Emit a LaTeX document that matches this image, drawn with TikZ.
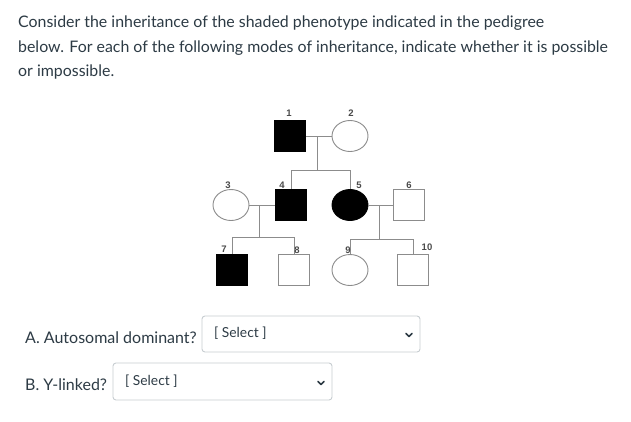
\documentclass[tikz,border=0pt]{standalone}
\usepackage{fontspec}
\setmainfont{Lato}
\newfontfamily\arialfont{Liberation Sans}
\usetikzlibrary{shapes.geometric,calc}
\definecolor{txt}{HTML}{2D3B45}
\definecolor{ln}{HTML}{8C8C8C}
\definecolor{lb}{HTML}{4A4A4A}
\definecolor{bx}{HTML}{C7CDD1}
\begin{document}
\begin{tikzpicture}[x=1pt,y=-1pt,
  male/.style={rectangle,draw=ln,line width=0.9pt,minimum size=31pt,inner sep=0pt},
  female/.style={ellipse,draw=ln,line width=0.9pt,minimum width=36pt,minimum height=31pt,inner sep=0pt},
  aff/.style={fill=black,draw=black},
  lbl/.style={font=\arialfont\bfseries\fontsize{9.5}{9.5}\selectfont,text=lb,inner sep=0pt},
  link/.style={draw=ln,line width=0.9pt},
  para/.style={font=\fontsize{15.9}{18}\selectfont,text=txt,anchor=base west,inner sep=0pt},
  qtext/.style={font=\fontsize{16}{18}\selectfont,text=txt,anchor=west,inner sep=0pt},
  sel/.style={font=\fontsize{13.8}{16}\selectfont,text=txt,anchor=west,inner sep=0pt},
  selbox/.style={draw=bx,line width=0.9pt,rounded corners=3pt,fill=white},
  chev/.style={draw=txt,line width=1.6pt,line cap=round,line join=round}]
\useasboundingbox (0,0) rectangle (631,421);
\fill[white] (0,0) rectangle (631,421);
% paragraph
\node[para] (t1) at (18,27.5) {Consider the inheritance of the shaded phenotype indicated in the pedigree};
\node[para] (t2) at (18,52) {below. For each of the following modes of inheritance, indicate whether it is possible};
\node[para] (t3) at (18,76.5) {or impossible.};
% pedigree
\node[male,aff] (p1) at (290,136) {};
\node[female] (p2) at (350,136) {};
\node[female] (p3) at (231,205) {};
\node[male,aff] (p4) at (291,205) {};
\node[female,aff] (p5) at (350,205) {};
\node[male] (p6) at (409,205) {};
\node[male,aff] (p7) at (232,270) {};
\node[male] (p8) at (294,270) {};
\node[female] (p9) at (350,270) {};
\node[male] (p10) at (413,270) {};
\coordinate (m12) at (317,136);
\coordinate (s12) at (317,170);
\coordinate (m34) at (259,205);
\coordinate (s34) at (259,237);
\coordinate (m56) at (379,205);
\coordinate (s56) at (379,239);
\draw[link] (p1.east) -- (p2.west);
\draw[link] (m12) -- (s12);
\draw[link] (s12) -| (p4.north);
\draw[link] (s12) -| (p5.north);
\draw[link] (p3.east) -- (p4.west);
\draw[link] (m34) -- (s34);
\draw[link] (s34) -| (p7.north);
\draw[link] (s34) -| (p8.north);
\draw[link] (p5.east) -- (p6.west);
\draw[link] (m56) -- (s56);
\draw[link] (s56) -| (p9.north);
\draw[link] (s56) -| (p10.north);
\node[lbl] (l1) at (289,113) {1};
\node[lbl] (l2) at (351,113) {2};
\node[lbl] (l3) at (228,185) {3};
\node[lbl] (l4) at (282,185) {4};
\node[lbl] (l5) at (359,185) {5};
\node[lbl] (l6) at (409,185) {6};
\node[lbl] (l7) at (224,249) {7};
\node[lbl] (l8) at (297,250) {8};
\node[lbl] (l9) at (348,250) {9};
\node[lbl] (l10) at (427,247) {10};
% questions
\node[qtext] (qa) at (25,338) {A. Autosomal dominant?};
\draw[selbox] (202,316) rectangle (420,352);
\node[sel] (sa) at (214,333) {[ Select ]};
\coordinate (ca) at (409,335);
\draw[chev] ($(ca)+(-3,-1.5)$) -- ($(ca)+(0,1.5)$) -- ($(ca)+(3,-1.5)$);
\node[qtext] (qb) at (25,385) {B. Y-linked?};
\draw[selbox] (113,363) rectangle (332,400);
\node[sel] (sb) at (125,381) {[ Select ]};
\coordinate (cb) at (321,383);
\draw[chev] ($(cb)+(-3,-1.5)$) -- ($(cb)+(0,1.5)$) -- ($(cb)+(3,-1.5)$);
\end{tikzpicture}
\end{document}
